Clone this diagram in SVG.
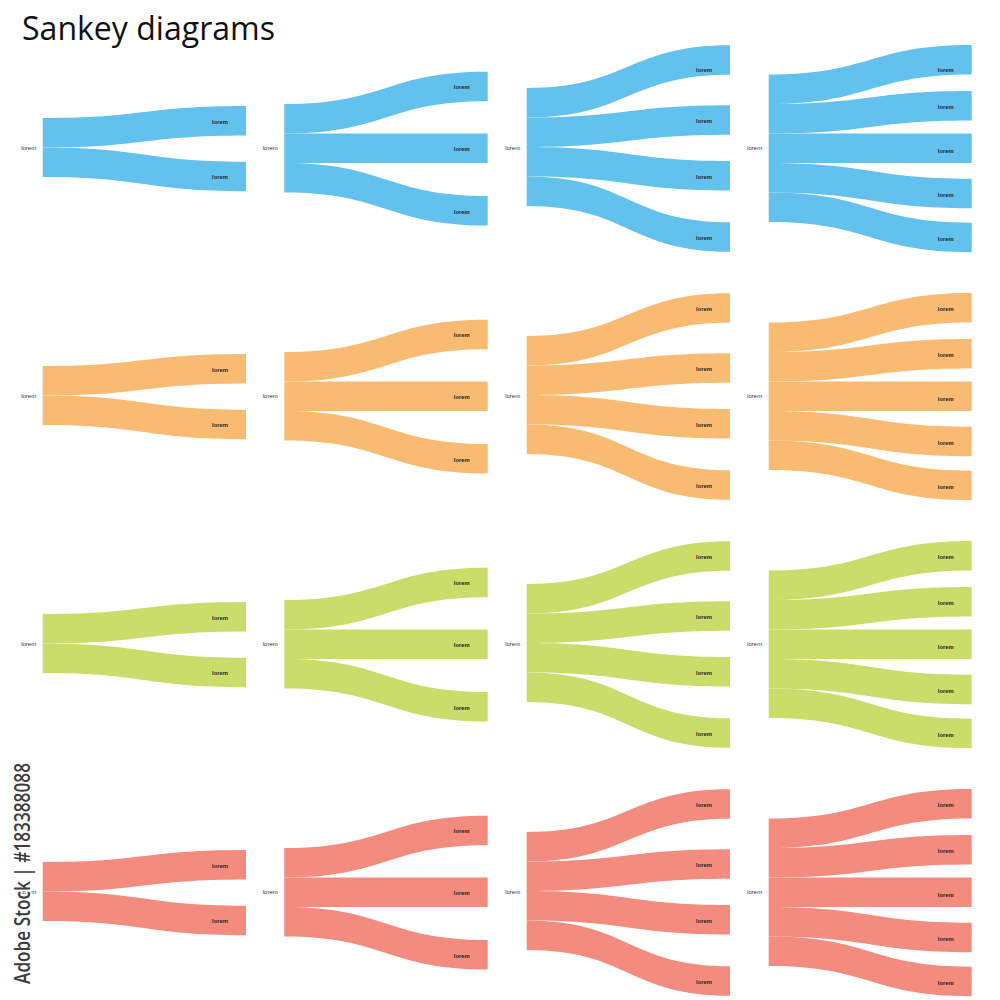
<svg xmlns="http://www.w3.org/2000/svg" width="1000" height="1000" viewBox="0 0 1000 1000">
<style>
.title{font-family:"Open Sans","Liberation Sans",sans-serif;font-size:32px;fill:#111}
.ls{font-family:"Liberation Sans","DejaVu Sans",sans-serif;font-size:6px;fill:#333;text-anchor:end}
.rs{font-family:"Liberation Sans","DejaVu Sans",sans-serif;font-size:5.8px;font-weight:bold;fill:#222;text-anchor:middle}
.wm{font-family:"Open Sans","Liberation Sans",sans-serif;font-size:21px;font-weight:600;fill:#3c3c3c;stroke:#fff;stroke-width:3px;paint-order:stroke;stroke-linejoin:round}
.blue path{fill:#63c2ed}
.orange path{fill:#f9bb72}
.green path{fill:#cadd6b}
.red path{fill:#f38b7f}
</style>
<rect width="1000" height="1000" fill="#fff"/>
<text class="title" x="22" y="40" textLength="253" lengthAdjust="spacingAndGlyphs">Sankey diagrams</text>

<g id="connectors">
<g id="links-row1" class="blue">
<path d="M42.7 118 C144.35 118 144.35 106 246 106 V135.5 C144.35 135.5 144.35 147.5 42.7 147.5 Z"/>
<path d="M42.7 147.5 C144.35 147.5 144.35 161.7 246 161.7 V191.2 C144.35 191.2 144.35 177 42.7 177 Z"/>
<path d="M284.3 104 C386 104 386 71.7 487.7 71.7 V101.2 C386 101.2 386 133.5 284.3 133.5 Z"/>
<path d="M284.3 133.5 H487.7 V163 H284.3 Z"/>
<path d="M284.3 163 C386 163 386 196 487.7 196 V225.5 C386 225.5 386 192.5 284.3 192.5 Z"/>
<path d="M526.7 88 C628.35 88 628.35 45.3 730 45.3 V74.8 C628.35 74.8 628.35 117.5 526.7 117.5 Z"/>
<path d="M526.7 117.5 C628.35 117.5 628.35 105.3 730 105.3 V134.8 C628.35 134.8 628.35 147 526.7 147 Z"/>
<path d="M526.7 147 C628.35 147 628.35 161 730 161 V190.5 C628.35 190.5 628.35 176.5 526.7 176.5 Z"/>
<path d="M526.7 176.5 C628.35 176.5 628.35 222.3 730 222.3 V251.8 C628.35 251.8 628.35 206 526.7 206 Z"/>
<path d="M768.7 74.5 C870.2 74.5 870.2 45 971.7 45 V74.5 C870.2 74.5 870.2 104 768.7 104 Z"/>
<path d="M768.7 104 C870.2 104 870.2 91 971.7 91 V120.5 C870.2 120.5 870.2 133.5 768.7 133.5 Z"/>
<path d="M768.7 133.5 H971.7 V163 H768.7 Z"/>
<path d="M768.7 163 C870.2 163 870.2 178.7 971.7 178.7 V208.2 C870.2 208.2 870.2 192.5 768.7 192.5 Z"/>
<path d="M768.7 192.5 C870.2 192.5 870.2 222.7 971.7 222.7 V252.2 C870.2 252.2 870.2 222 768.7 222 Z"/>
</g>
<g id="links-row2" class="orange" transform="translate(0,248)">
<path d="M42.7 118 C144.35 118 144.35 106 246 106 V135.5 C144.35 135.5 144.35 147.5 42.7 147.5 Z"/>
<path d="M42.7 147.5 C144.35 147.5 144.35 161.7 246 161.7 V191.2 C144.35 191.2 144.35 177 42.7 177 Z"/>
<path d="M284.3 104 C386 104 386 71.7 487.7 71.7 V101.2 C386 101.2 386 133.5 284.3 133.5 Z"/>
<path d="M284.3 133.5 H487.7 V163 H284.3 Z"/>
<path d="M284.3 163 C386 163 386 196 487.7 196 V225.5 C386 225.5 386 192.5 284.3 192.5 Z"/>
<path d="M526.7 88 C628.35 88 628.35 45.3 730 45.3 V74.8 C628.35 74.8 628.35 117.5 526.7 117.5 Z"/>
<path d="M526.7 117.5 C628.35 117.5 628.35 105.3 730 105.3 V134.8 C628.35 134.8 628.35 147 526.7 147 Z"/>
<path d="M526.7 147 C628.35 147 628.35 161 730 161 V190.5 C628.35 190.5 628.35 176.5 526.7 176.5 Z"/>
<path d="M526.7 176.5 C628.35 176.5 628.35 222.3 730 222.3 V251.8 C628.35 251.8 628.35 206 526.7 206 Z"/>
<path d="M768.7 74.5 C870.2 74.5 870.2 45 971.7 45 V74.5 C870.2 74.5 870.2 104 768.7 104 Z"/>
<path d="M768.7 104 C870.2 104 870.2 91 971.7 91 V120.5 C870.2 120.5 870.2 133.5 768.7 133.5 Z"/>
<path d="M768.7 133.5 H971.7 V163 H768.7 Z"/>
<path d="M768.7 163 C870.2 163 870.2 178.7 971.7 178.7 V208.2 C870.2 208.2 870.2 192.5 768.7 192.5 Z"/>
<path d="M768.7 192.5 C870.2 192.5 870.2 222.7 971.7 222.7 V252.2 C870.2 252.2 870.2 222 768.7 222 Z"/>
</g>
<g id="links-row3" class="green" transform="translate(0,496)">
<path d="M42.7 118 C144.35 118 144.35 106 246 106 V135.5 C144.35 135.5 144.35 147.5 42.7 147.5 Z"/>
<path d="M42.7 147.5 C144.35 147.5 144.35 161.7 246 161.7 V191.2 C144.35 191.2 144.35 177 42.7 177 Z"/>
<path d="M284.3 104 C386 104 386 71.7 487.7 71.7 V101.2 C386 101.2 386 133.5 284.3 133.5 Z"/>
<path d="M284.3 133.5 H487.7 V163 H284.3 Z"/>
<path d="M284.3 163 C386 163 386 196 487.7 196 V225.5 C386 225.5 386 192.5 284.3 192.5 Z"/>
<path d="M526.7 88 C628.35 88 628.35 45.3 730 45.3 V74.8 C628.35 74.8 628.35 117.5 526.7 117.5 Z"/>
<path d="M526.7 117.5 C628.35 117.5 628.35 105.3 730 105.3 V134.8 C628.35 134.8 628.35 147 526.7 147 Z"/>
<path d="M526.7 147 C628.35 147 628.35 161 730 161 V190.5 C628.35 190.5 628.35 176.5 526.7 176.5 Z"/>
<path d="M526.7 176.5 C628.35 176.5 628.35 222.3 730 222.3 V251.8 C628.35 251.8 628.35 206 526.7 206 Z"/>
<path d="M768.7 74.5 C870.2 74.5 870.2 45 971.7 45 V74.5 C870.2 74.5 870.2 104 768.7 104 Z"/>
<path d="M768.7 104 C870.2 104 870.2 91 971.7 91 V120.5 C870.2 120.5 870.2 133.5 768.7 133.5 Z"/>
<path d="M768.7 133.5 H971.7 V163 H768.7 Z"/>
<path d="M768.7 163 C870.2 163 870.2 178.7 971.7 178.7 V208.2 C870.2 208.2 870.2 192.5 768.7 192.5 Z"/>
<path d="M768.7 192.5 C870.2 192.5 870.2 222.7 971.7 222.7 V252.2 C870.2 252.2 870.2 222 768.7 222 Z"/>
</g>
<g id="links-row4" class="red" transform="translate(0,744)">
<path d="M42.7 118 C144.35 118 144.35 106 246 106 V135.5 C144.35 135.5 144.35 147.5 42.7 147.5 Z"/>
<path d="M42.7 147.5 C144.35 147.5 144.35 161.7 246 161.7 V191.2 C144.35 191.2 144.35 177 42.7 177 Z"/>
<path d="M284.3 104 C386 104 386 71.7 487.7 71.7 V101.2 C386 101.2 386 133.5 284.3 133.5 Z"/>
<path d="M284.3 133.5 H487.7 V163 H284.3 Z"/>
<path d="M284.3 163 C386 163 386 196 487.7 196 V225.5 C386 225.5 386 192.5 284.3 192.5 Z"/>
<path d="M526.7 88 C628.35 88 628.35 45.3 730 45.3 V74.8 C628.35 74.8 628.35 117.5 526.7 117.5 Z"/>
<path d="M526.7 117.5 C628.35 117.5 628.35 105.3 730 105.3 V134.8 C628.35 134.8 628.35 147 526.7 147 Z"/>
<path d="M526.7 147 C628.35 147 628.35 161 730 161 V190.5 C628.35 190.5 628.35 176.5 526.7 176.5 Z"/>
<path d="M526.7 176.5 C628.35 176.5 628.35 222.3 730 222.3 V251.8 C628.35 251.8 628.35 206 526.7 206 Z"/>
<path d="M768.7 74.5 C870.2 74.5 870.2 45 971.7 45 V74.5 C870.2 74.5 870.2 104 768.7 104 Z"/>
<path d="M768.7 104 C870.2 104 870.2 91 971.7 91 V120.5 C870.2 120.5 870.2 133.5 768.7 133.5 Z"/>
<path d="M768.7 133.5 H971.7 V163 H768.7 Z"/>
<path d="M768.7 163 C870.2 163 870.2 178.7 971.7 178.7 V208.2 C870.2 208.2 870.2 192.5 768.7 192.5 Z"/>
<path d="M768.7 192.5 C870.2 192.5 870.2 222.7 971.7 222.7 V252.2 C870.2 252.2 870.2 222 768.7 222 Z"/>
</g>
</g>

<g id="nodes-row1">
<g id="r1c1-src"><text class="ls" x="36.2" y="149.8">lorem</text></g>
<g id="r1c1-t1"><text class="rs" x="220" y="123.5">lorem</text></g>
<g id="r1c1-t2"><text class="rs" x="220" y="179.2">lorem</text></g>
<g id="r1c2-src"><text class="ls" x="277.8" y="149.8">lorem</text></g>
<g id="r1c2-t1"><text class="rs" x="461.7" y="89.2">lorem</text></g>
<g id="r1c2-t2"><text class="rs" x="461.7" y="151">lorem</text></g>
<g id="r1c2-t3"><text class="rs" x="461.7" y="213.5">lorem</text></g>
<g id="r1c3-src"><text class="ls" x="520.2" y="149.8">lorem</text></g>
<g id="r1c3-t1"><text class="rs" x="704" y="72.2">lorem</text></g>
<g id="r1c3-t2"><text class="rs" x="704" y="122.8">lorem</text></g>
<g id="r1c3-t3"><text class="rs" x="704" y="178.5">lorem</text></g>
<g id="r1c3-t4"><text class="rs" x="704" y="239.8">lorem</text></g>
<g id="r1c4-src"><text class="ls" x="762.2" y="149.8">lorem</text></g>
<g id="r1c4-t1"><text class="rs" x="945.7" y="72.2">lorem</text></g>
<g id="r1c4-t2"><text class="rs" x="945.7" y="108.5">lorem</text></g>
<g id="r1c4-t3"><text class="rs" x="945.7" y="152.5">lorem</text></g>
<g id="r1c4-t4"><text class="rs" x="945.7" y="196.5">lorem</text></g>
<g id="r1c4-t5"><text class="rs" x="945.7" y="240.5">lorem</text></g>
</g>
<g id="nodes-row2" transform="translate(0,248)">
<g id="r2c1-src"><text class="ls" x="36.2" y="149.8">lorem</text></g>
<g id="r2c1-t1"><text class="rs" x="220" y="123.5">lorem</text></g>
<g id="r2c1-t2"><text class="rs" x="220" y="179.2">lorem</text></g>
<g id="r2c2-src"><text class="ls" x="277.8" y="149.8">lorem</text></g>
<g id="r2c2-t1"><text class="rs" x="461.7" y="89.2">lorem</text></g>
<g id="r2c2-t2"><text class="rs" x="461.7" y="151">lorem</text></g>
<g id="r2c2-t3"><text class="rs" x="461.7" y="213.5">lorem</text></g>
<g id="r2c3-src"><text class="ls" x="520.2" y="149.8">lorem</text></g>
<g id="r2c3-t1"><text class="rs" x="704" y="62.8">lorem</text></g>
<g id="r2c3-t2"><text class="rs" x="704" y="122.8">lorem</text></g>
<g id="r2c3-t3"><text class="rs" x="704" y="178.5">lorem</text></g>
<g id="r2c3-t4"><text class="rs" x="704" y="239.8">lorem</text></g>
<g id="r2c4-src"><text class="ls" x="762.2" y="149.8">lorem</text></g>
<g id="r2c4-t1"><text class="rs" x="945.7" y="62.5">lorem</text></g>
<g id="r2c4-t2"><text class="rs" x="945.7" y="108.5">lorem</text></g>
<g id="r2c4-t3"><text class="rs" x="945.7" y="152.5">lorem</text></g>
<g id="r2c4-t4"><text class="rs" x="945.7" y="196.5">lorem</text></g>
<g id="r2c4-t5"><text class="rs" x="945.7" y="240.5">lorem</text></g>
</g>
<g id="nodes-row3" transform="translate(0,496)">
<g id="r3c1-src"><text class="ls" x="36.2" y="149.8">lorem</text></g>
<g id="r3c1-t1"><text class="rs" x="220" y="123.5">lorem</text></g>
<g id="r3c1-t2"><text class="rs" x="220" y="179.2">lorem</text></g>
<g id="r3c2-src"><text class="ls" x="277.8" y="149.8">lorem</text></g>
<g id="r3c2-t1"><text class="rs" x="461.7" y="89.2">lorem</text></g>
<g id="r3c2-t2"><text class="rs" x="461.7" y="151">lorem</text></g>
<g id="r3c2-t3"><text class="rs" x="461.7" y="213.5">lorem</text></g>
<g id="r3c3-src"><text class="ls" x="520.2" y="149.8">lorem</text></g>
<g id="r3c3-t1"><text class="rs" x="704" y="62.8">lorem</text></g>
<g id="r3c3-t2"><text class="rs" x="704" y="122.8">lorem</text></g>
<g id="r3c3-t3"><text class="rs" x="704" y="178.5">lorem</text></g>
<g id="r3c3-t4"><text class="rs" x="704" y="239.8">lorem</text></g>
<g id="r3c4-src"><text class="ls" x="762.2" y="149.8">lorem</text></g>
<g id="r3c4-t1"><text class="rs" x="945.7" y="62.5">lorem</text></g>
<g id="r3c4-t2"><text class="rs" x="945.7" y="108.5">lorem</text></g>
<g id="r3c4-t3"><text class="rs" x="945.7" y="152.5">lorem</text></g>
<g id="r3c4-t4"><text class="rs" x="945.7" y="196.5">lorem</text></g>
<g id="r3c4-t5"><text class="rs" x="945.7" y="240.5">lorem</text></g>
</g>
<g id="nodes-row4" transform="translate(0,744)">
<g id="r4c1-src"><text class="ls" x="36.2" y="149.8">lorem</text></g>
<g id="r4c1-t1"><text class="rs" x="220" y="123.5">lorem</text></g>
<g id="r4c1-t2"><text class="rs" x="220" y="179.2">lorem</text></g>
<g id="r4c2-src"><text class="ls" x="277.8" y="149.8">lorem</text></g>
<g id="r4c2-t1"><text class="rs" x="461.7" y="89.2">lorem</text></g>
<g id="r4c2-t2"><text class="rs" x="461.7" y="151">lorem</text></g>
<g id="r4c2-t3"><text class="rs" x="461.7" y="213.5">lorem</text></g>
<g id="r4c3-src"><text class="ls" x="520.2" y="149.8">lorem</text></g>
<g id="r4c3-t1"><text class="rs" x="704" y="62.8">lorem</text></g>
<g id="r4c3-t2"><text class="rs" x="704" y="122.8">lorem</text></g>
<g id="r4c3-t3"><text class="rs" x="704" y="178.5">lorem</text></g>
<g id="r4c3-t4"><text class="rs" x="704" y="239.8">lorem</text></g>
<g id="r4c4-src"><text class="ls" x="762.2" y="149.8">lorem</text></g>
<g id="r4c4-t1"><text class="rs" x="945.7" y="62.5">lorem</text></g>
<g id="r4c4-t2"><text class="rs" x="945.7" y="108.5">lorem</text></g>
<g id="r4c4-t3"><text class="rs" x="945.7" y="152.5">lorem</text></g>
<g id="r4c4-t4"><text class="rs" x="945.7" y="196.5">lorem</text></g>
<g id="r4c4-t5"><text class="rs" x="945.7" y="240.5">lorem</text></g>
</g>

<text class="wm" transform="translate(30,984) rotate(-90)" textLength="221" lengthAdjust="spacingAndGlyphs">Adobe Stock | #183388088</text>
</svg>
